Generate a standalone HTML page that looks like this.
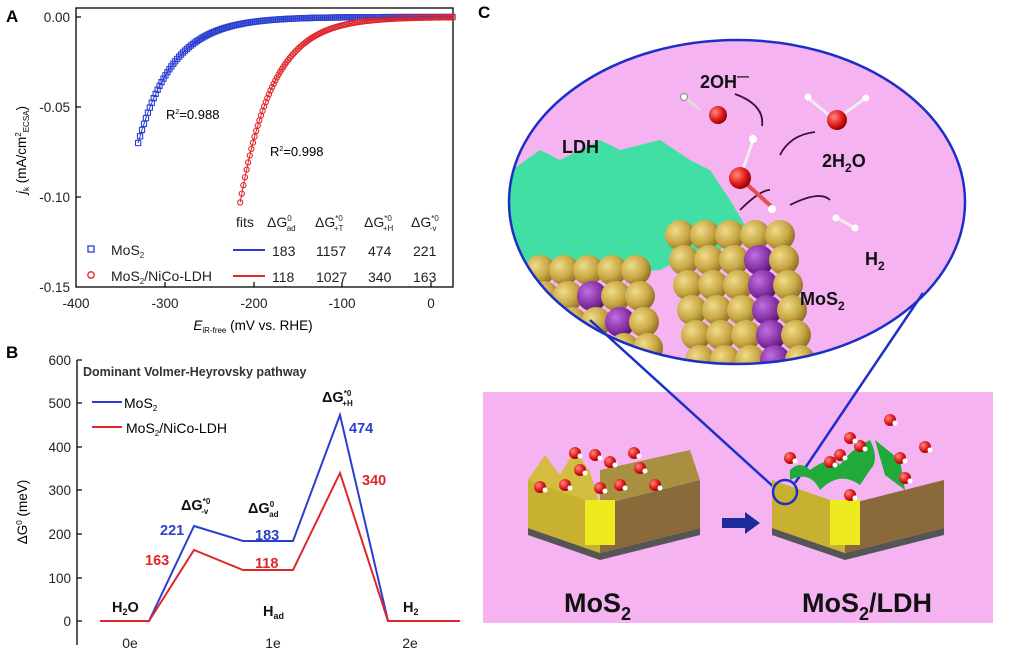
<!DOCTYPE html>
<html><head><meta charset="utf-8"><style>
html,body{margin:0;padding:0;background:#fff;}
svg{display:block;font-family:"Liberation Sans",Arial,sans-serif;}
</style></head><body>
<svg id="s" width="1024" height="650" viewBox="0 0 1024 650" xmlns="http://www.w3.org/2000/svg">
<defs>
<radialGradient id="gold" cx="0.35" cy="0.35" r="0.7"><stop offset="0" stop-color="#f0dc8a"/><stop offset="0.6" stop-color="#c9a845"/><stop offset="1" stop-color="#8a6e22"/></radialGradient>
<radialGradient id="purp" cx="0.35" cy="0.35" r="0.7"><stop offset="0" stop-color="#c070e0"/><stop offset="0.6" stop-color="#8a34a8"/><stop offset="1" stop-color="#4e1866"/></radialGradient>
<radialGradient id="red" cx="0.35" cy="0.35" r="0.7"><stop offset="0" stop-color="#ff8a80"/><stop offset="0.6" stop-color="#e01b1b"/><stop offset="1" stop-color="#8a0000"/></radialGradient>
<clipPath id="ell"><ellipse cx="737" cy="202" rx="228" ry="162"/></clipPath>
</defs>

<!-- Panel A -->
<text x="6" y="22" font-size="17" font-weight="bold">A</text>
<rect x="76" y="8" width="377" height="279" fill="none" stroke="#000" stroke-width="1.3"/>
<g font-size="13.5" text-anchor="end" fill="#222">
<text x="70" y="22">0.00</text><text x="70" y="112">-0.05</text><text x="70" y="202">-0.10</text><text x="70" y="292">-0.15</text>
</g>
<g stroke="#000" stroke-width="1.2">
<line x1="76" y1="17" x2="81" y2="17"/><line x1="76" y1="107" x2="81" y2="107"/><line x1="76" y1="197" x2="81" y2="197"/>
<line x1="165" y1="287" x2="165" y2="282"/><line x1="254" y1="287" x2="254" y2="282"/><line x1="342" y1="287" x2="342" y2="282"/><line x1="431" y1="287" x2="431" y2="282"/>
</g>
<g font-size="13.5" text-anchor="middle" fill="#222">
<text x="76" y="308">-400</text><text x="165" y="308">-300</text><text x="254" y="308">-200</text><text x="342" y="308">-100</text><text x="431" y="308">0</text>
</g>
<text x="253" y="330" font-size="13.5" text-anchor="middle"><tspan font-style="italic">E</tspan><tspan font-size="8" dy="3">iR-free</tspan><tspan dy="-3"> (mV vs. RHE)</tspan></text>
<text transform="translate(26,150) rotate(-90)" font-size="13.5" text-anchor="middle"><tspan font-style="italic">j</tspan><tspan font-size="8" dy="3">k</tspan><tspan dy="-3"> (mA/cm</tspan><tspan font-size="8" dy="-5">2</tspan><tspan font-size="8" dy="8">ECSA</tspan><tspan dy="-3">)</tspan></text>
<g id="curves"></g>
<text x="166" y="119" font-size="13">R<tspan font-size="7" dy="-5">2</tspan><tspan dy="5">=0.988</tspan></text>
<text x="270" y="156" font-size="13">R<tspan font-size="7" dy="-5">2</tspan><tspan dy="5">=0.998</tspan></text>
<g font-size="14" fill="#222">
<text x="236" y="227">fits</text>
<text x="267" y="227">ΔG<tspan font-size="8" dy="-6">0</tspan><tspan font-size="8" dx="-5" dy="10">ad</tspan></text>
<text x="315" y="227">ΔG<tspan font-size="8" dy="-6">*0</tspan><tspan font-size="8" dx="-9" dy="10">+T</tspan></text>
<text x="364" y="227">ΔG<tspan font-size="8" dy="-6">*0</tspan><tspan font-size="8" dx="-9" dy="10">+H</tspan></text>
<text x="411" y="227">ΔG<tspan font-size="8" dy="-6">*0</tspan><tspan font-size="8" dx="-9" dy="10">-v</tspan></text>
<text x="111" y="255">MoS<tspan font-size="8" dy="3">2</tspan></text>
<text x="111" y="281">MoS<tspan font-size="8" dy="3">2</tspan><tspan dy="-3">/NiCo-LDH</tspan></text>
<text x="272" y="256">183</text><text x="316" y="256">1157</text><text x="368" y="256">474</text><text x="413" y="256">221</text>
<text x="272" y="282">118</text><text x="316" y="282">1027</text><text x="368" y="282">340</text><text x="413" y="282">163</text>
</g>
<rect x="88" y="246" width="6" height="6" fill="none" stroke="#2a3fd0" stroke-width="1.3"/>
<circle cx="91" cy="275" r="3.2" fill="none" stroke="#e0262a" stroke-width="1.3"/>
<line x1="233" y1="250" x2="265" y2="250" stroke="#2a3fd0" stroke-width="2"/>
<line x1="233" y1="276" x2="265" y2="276" stroke="#e0262a" stroke-width="2"/>

<!-- Panel B -->
<text x="6" y="358" font-size="17" font-weight="bold">B</text>
<line x1="77" y1="360" x2="77" y2="645" stroke="#000" stroke-width="1.3"/>
<g stroke="#000" stroke-width="1.2">
<line x1="77" y1="360" x2="82" y2="360"/><line x1="77" y1="403" x2="82" y2="403"/><line x1="77" y1="447" x2="82" y2="447"/><line x1="77" y1="490" x2="82" y2="490"/><line x1="77" y1="534" x2="82" y2="534"/><line x1="77" y1="578" x2="82" y2="578"/><line x1="77" y1="621" x2="82" y2="621"/>
</g>
<g font-size="13.5" text-anchor="end" fill="#222">
<text x="71" y="365">600</text><text x="71" y="408">500</text><text x="71" y="452">400</text><text x="71" y="495">300</text><text x="71" y="539">200</text><text x="71" y="583">100</text><text x="71" y="626">0</text>
</g>
<text transform="translate(27,512) rotate(-90)" font-size="13.5" text-anchor="middle">ΔG<tspan font-size="8" dy="-5">0</tspan><tspan dy="5"> (meV)</tspan></text>
<text x="83" y="376" font-size="12.5" font-weight="bold" fill="#333">Dominant Volmer-Heyrovsky pathway</text>
<line x1="92" y1="402" x2="122" y2="402" stroke="#2a3fd0" stroke-width="2"/>
<line x1="92" y1="427" x2="122" y2="427" stroke="#e0262a" stroke-width="2"/>
<text x="124" y="408" font-size="14">MoS<tspan font-size="8" dy="3">2</tspan></text>
<text x="126" y="433" font-size="14">MoS<tspan font-size="8" dy="3">2</tspan><tspan dy="-3">/NiCo-LDH</tspan></text>
<polyline points="100,621 149,621 194,526 243,541 293,541 340,415 388,621 460,621" fill="none" stroke="#2a3fd0" stroke-width="2"/>
<polyline points="100,621 149,621 194,550 243,570 293,570 340,473 388,621 460,621" fill="none" stroke="#e0262a" stroke-width="2"/>
<g font-size="14.5" font-weight="bold">
<text x="160" y="535" fill="#2a3fd0">221</text><text x="145" y="565" fill="#e0262a">163</text>
<text x="255" y="540" fill="#2a3fd0">183</text><text x="255" y="568" fill="#e0262a">118</text>
<text x="349" y="433" fill="#2a3fd0">474</text><text x="362" y="485" fill="#e0262a">340</text>
<text x="112" y="612" fill="#111">H<tspan font-size="9" dy="3">2</tspan><tspan dy="-3">O</tspan></text>
<text x="263" y="616" fill="#111">H<tspan font-size="9" dy="3">ad</tspan></text>
<text x="403" y="612" fill="#111">H<tspan font-size="9" dy="3">2</tspan></text>
<text x="181" y="510" fill="#111">ΔG<tspan font-size="8" dy="-6">*0</tspan><tspan font-size="8" dx="-9" dy="10">-v</tspan></text>
<text x="248" y="513" fill="#111">ΔG<tspan font-size="8" dy="-6">0</tspan><tspan font-size="8" dx="-5" dy="10">ad</tspan></text>
<text x="322" y="402" fill="#111">ΔG<tspan font-size="8" dy="-6">*0</tspan><tspan font-size="8" dx="-9" dy="10">+H</tspan></text>
</g>
<g font-size="14" text-anchor="middle" fill="#222">
<text x="130" y="648">0e</text><text x="273" y="648">1e</text><text x="410" y="648">2e</text>
</g>

<!-- Panel C -->
<text x="478" y="18" font-size="17" font-weight="bold">C</text>
<rect x="483" y="392" width="510" height="231" fill="#f5b3f2"/>
<g clip-path="url(#ell)">
<ellipse cx="737" cy="202" rx="228" ry="162" fill="#f5b3f2"/>
<polygon points="505,175 540,150 560,160 600,140 620,150 660,140 690,160 710,170 730,200 745,225 720,250 690,255 660,270 600,275 560,270 520,260 505,240" fill="#2ee39a" opacity="0.9"/>
<g id="spheres"></g>
</g>
<ellipse cx="737" cy="202" rx="228" ry="162" fill="none" stroke="#1e2fc8" stroke-width="2.5"/>
<g font-size="18" font-weight="bold" fill="#111">
<text x="700" y="88">2OH<tspan font-size="12" dy="-8">—</tspan></text>
<text x="822" y="167">2H<tspan font-size="12" dy="5">2</tspan><tspan dy="-5">O</tspan></text>
<text x="562" y="153">LDH</text>
<text x="865" y="265">H<tspan font-size="12" dy="5">2</tspan></text>
<text x="800" y="305">MoS<tspan font-size="12" dy="5">2</tspan></text>
</g>
<g fill="none" stroke="#3a1030" stroke-width="1.8">
<path d="M762 126 Q765 105 735 94"/><path d="M815 132 Q790 135 780 155"/><path d="M790 205 Q820 190 830 200"/><path d="M740 210 Q760 190 770 190"/>
</g>
<g>
<line x1="686" y1="98" x2="700" y2="110" stroke="#ddd" stroke-width="3"/><circle cx="684" cy="97" r="3.5" fill="#fff" stroke="#888"/><circle cx="718" cy="115" r="9" fill="url(#red)"/>
<line x1="808" y1="98" x2="835" y2="120" stroke="#eee" stroke-width="3"/><line x1="866" y1="98" x2="835" y2="120" stroke="#eee" stroke-width="3"/><circle cx="808" cy="97" r="3.5" fill="#fff"/><circle cx="866" cy="98" r="3.5" fill="#fff"/><circle cx="837" cy="120" r="10" fill="url(#red)"/>
<line x1="753" y1="140" x2="740" y2="178" stroke="#eee" stroke-width="3"/><line x1="740" y1="178" x2="773" y2="208" stroke="#e05050" stroke-width="4"/><circle cx="753" cy="139" r="4" fill="#fff"/><circle cx="772" cy="209" r="4" fill="#fff"/><circle cx="740" cy="178" r="11" fill="url(#red)"/>
<line x1="837" y1="218" x2="853" y2="227" stroke="#eee" stroke-width="3"/><circle cx="836" cy="218" r="3.5" fill="#fff"/><circle cx="855" cy="228" r="3.5" fill="#fff"/>
</g>
<line x1="590" y1="320" x2="777" y2="490" stroke="#1e2fc8" stroke-width="2.5"/>
<line x1="923" y1="293" x2="795" y2="483" stroke="#1e2fc8" stroke-width="2.5"/>
<!-- bottom models -->
<g>
<polygon points="528,535 600,560 700,535 700,528 600,553 528,528" fill="#555"/>
<polygon points="528,480 528,528 600,553 600,505" fill="#c8b030"/>
<polygon points="600,505 600,553 700,528 700,480" fill="#8a6a3a"/>
<polygon points="528,480 545,455 560,475 575,450 590,472 600,505" fill="#d4bc40"/>
<polygon points="600,505 700,480 690,450 600,470" fill="#a89040"/>
<rect x="585" y="500" width="30" height="45" fill="#eeea20"/>
<polygon points="772,535 845,560 944,535 944,528 845,553 772,528" fill="#555"/>
<polygon points="772,480 772,528 845,553 845,505" fill="#c8b030"/>
<polygon points="845,505 845,553 944,528 944,480" fill="#8a6a3a"/>
<rect x="830" y="500" width="30" height="45" fill="#eeea20"/>
<path d="M790 480 Q810 470 820 490 Q840 470 860 485 L870 470 Q880 460 870 440 Q850 450 840 465 Q830 455 810 470 Q800 460 790 470Z" fill="#1faa3a"/>
<path d="M875 440 L900 460 L905 490 L885 475Z" fill="#1faa3a"/>
<polygon points="722,518 745,518 745,512 760,523 745,534 745,528 722,528" fill="#1c2a9a"/>
<circle cx="785" cy="492" r="12" fill="none" stroke="#1e2fc8" stroke-width="2.5"/>
<g id="drops"></g>
</g>
<g font-size="27" font-weight="bold" fill="#111">
<text x="564" y="612">MoS<tspan font-size="18" dy="8">2</tspan></text>
<text x="802" y="612">MoS<tspan font-size="18" dy="8">2</tspan><tspan dy="-8">/LDH</tspan></text>
</g>
</svg>
<script>
var NS="http://www.w3.org/2000/svg";
function el(p,t,a){var e=document.createElementNS(NS,t);for(var k in a)e.setAttribute(k,a[k]);p.appendChild(e);return e;}
var g=document.getElementById('curves');
function X(E){return 76+(E+400)*0.8875;}function Y(j){return 17-1800*j;}
var pb="",pr="";
for(var E=-330;E<=25;E+=2.2){var j=-0.07*Math.exp(-(E+330)/40);el(g,'rect',{x:X(E)-2.6,y:Y(j)-2.6,width:5.2,height:5.2,fill:'none',stroke:'#2a3fd0','stroke-width':1.1});pb+=(pb?"L":"M")+X(E).toFixed(1)+" "+Y(j).toFixed(1);}
for(var E=-215;E<=25;E+=1.8){var j=-0.103*Math.exp(-(E+215)/37);el(g,'circle',{cx:X(E),cy:Y(j),r:2.6,fill:'none',stroke:'#e0262a','stroke-width':1.1});pr+=(pr?"L":"M")+X(E).toFixed(1)+" "+Y(j).toFixed(1);}
el(g,'path',{d:pb,fill:'none',stroke:'#2a3fd0','stroke-width':1});
el(g,'path',{d:pr,fill:'none',stroke:'#e0262a','stroke-width':1});
var s=document.getElementById('spheres');
function pile(x0,y0,rows,cols,dx,dy,purple){for(var r=0;r<rows;r++)for(var c=0;c<cols;c++){var isP=purple(r,c);el(s,'circle',{cx:x0+c*dx+r*4,cy:y0+r*dy,r:15,fill:isP?'url(#purp)':'url(#gold)'});}}
pile(540,270,5,5,24,26,function(r,c){return (c==2&&r%2==1)||(c==3&&r==2);});
pile(680,235,6,5,25,25,function(r,c){return c==3&&r>0;});
var d=document.getElementById('drops');
[[595,455],[580,470],[610,462],[565,485],[640,468],[655,485],[600,488],[540,487],[575,453],[634,453],[620,485],[790,458],[830,462],[860,446],[840,455],[900,458],[905,478],[890,420],[850,438],[850,495],[925,447]].forEach(function(p){el(d,'circle',{cx:p[0],cy:p[1],r:6,fill:'url(#red)'});el(d,'circle',{cx:p[0]+5,cy:p[1]+3,r:2.5,fill:'#fff'});});
</script>
</body></html>
